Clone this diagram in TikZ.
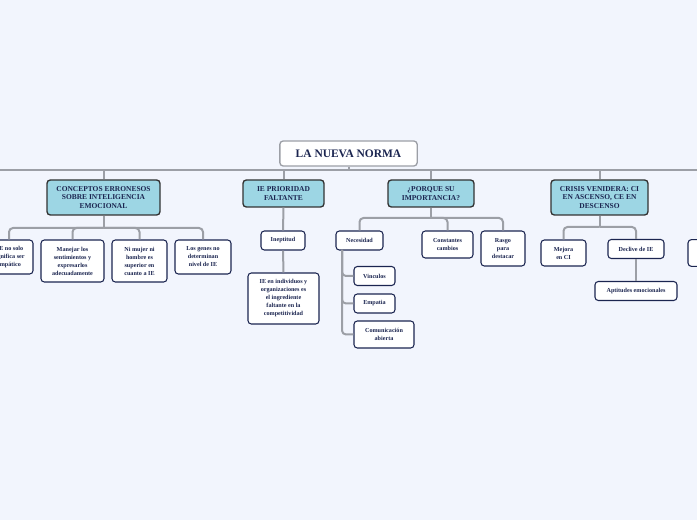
\documentclass[tikz,border=0pt]{standalone}
\usepackage{fontspec}
\setmainfont{Liberation Serif}
\definecolor{bg}{HTML}{F2F5FD}
\definecolor{navy}{HTML}{1B2550}
\definecolor{lblue}{HTML}{9DD6E4}
\definecolor{lgray}{HTML}{9C9FA6}
\begin{document}
\begin{tikzpicture}[x=0.75pt,y=-0.75pt,
  box/.style={draw=navy,line width=0.8pt,rounded corners=2.5pt,fill=white,text=navy,font=\fontsize{4.6}{6}\selectfont\bfseries,align=center,inner sep=0pt},
  topbox/.style={box,fill=lblue,draw=black!80,line width=1pt,font=\fontsize{5.6}{6.2}\selectfont\bfseries},
  conn/.style={draw=lgray,line width=1.5pt,rounded corners=3pt}]
\fill[bg] (0,0) rectangle (697,520);
\useasboundingbox (0,0) rectangle (697,520);
% title
\node[box,draw=lgray,line width=1pt,font=\fontsize{8.6}{10}\selectfont\bfseries,minimum width=103pt,minimum height=18.75pt] (T) at (348.5,153.5) {LA NUEVA NORMA};
\coordinate (L0) at (0,170);
\coordinate (L1) at (697,170);
\draw[conn] (L0) -- (L1);
\draw[conn] (T.south) -- (T.south|-L0);
% level 1
\node[topbox,minimum width=84.75pt,minimum height=26.25pt] (A) at (103.5,197.5) {CONCEPTOS ERRONESOS\\SOBRE INTELIGENCIA\\EMOCIONAL};
\node[topbox,minimum width=60.75pt,minimum height=20.25pt] (B) at (283.5,193.5) {IE PRIORIDAD\\FALTANTE};
\node[topbox,minimum width=64.5pt,minimum height=20.25pt] (C) at (431,193.5) {¿PORQUE SU\\IMPORTANCIA?};
\node[topbox,minimum width=72.75pt,minimum height=26.25pt] (D) at (599.5,197.5) {CRISIS VENIDERA: CI\\EN ASCENSO, CE EN\\DESCENSO};
\foreach \n in {A,B,C,D} \draw[conn] (\n.north) -- (\n.north|-L0);
% A children
\coordinate (AB) at (103.5,228);
\node[box,minimum width=36pt,minimum height=25.5pt] (a1) at (9,257) {CE no solo\\significa ser\\empático};
\node[box,minimum width=47.25pt,minimum height=31.5pt] (a2) at (72.5,261) {Manejar los\\sentimientos y\\expresarlos\\adecuadamente};
\node[box,minimum width=41.25pt,minimum height=31.5pt] (a3) at (139.5,261) {Ni mujer ni\\hombre es\\superior en\\cuanto a IE};
\node[box,minimum width=42pt,minimum height=25.5pt] (a4) at (203,257) {Los genes no\\determinan\\nivel de IE};
\draw[conn] (A.south) -- (AB);
\foreach \n in {a1,a2,a3,a4} \draw[conn] (\n.north) |- (AB);
% B children
\node[box,minimum width=33pt,minimum height=14.25pt] (b1) at (283,240.5) {Ineptitud};
\node[box,minimum width=53.25pt,minimum height=38.25pt] (b2) at (283.5,298.5) {IE en individuos y\\organizaciones es\\el ingrediente\\faltante en la\\competitividad};
\draw[conn] (B.south) -- (b1.north);
\draw[conn] (b1.south) -- (b2.north);
% C children
\coordinate (CB) at (431,218);
\node[box,minimum width=35.25pt,minimum height=14.25pt] (c1) at (359.5,240.5) {Necesidad};
\node[box,minimum width=38.25pt,minimum height=20.25pt] (c2) at (447.5,244.5) {Constantes\\cambios};
\node[box,minimum width=33pt,minimum height=26.25pt] (c3) at (503,248.5) {Rasgo\\para\\destacar};
\draw[conn] (C.south) -- (CB);
\foreach \n in {c1,c2,c3} \draw[conn] (\n.north) |- (CB);
\node[box,minimum width=30.75pt,minimum height=14.25pt] (n1) at (374.5,276) {Vinculos};
\node[box,minimum width=30.75pt,minimum height=14.25pt] (n2) at (374.5,303.5) {Empatia};
\node[box,minimum width=45pt,minimum height=20.25pt] (n3) at (384,334.5) {Comunicación\\abierta};
\coordinate (NV) at (342,250);
\foreach \n in {n1,n2,n3} \draw[conn] (NV) |- (\n.west);
% D children
\coordinate (DB) at (599.5,227);
\node[box,minimum width=33.75pt,minimum height=19.5pt] (d1) at (563.5,253) {Mejora\\en CI};
\node[box,minimum width=42pt,minimum height=14.25pt] (d2) at (636,249) {Declive de IE};
\node[box,minimum width=61.5pt,minimum height=14.25pt] (d3) at (636,291) {Aptitudes emocionales};
\draw[conn] (D.south) -- (DB);
\foreach \n in {d1,d2} \draw[conn] (\n.north) |- (DB);
\draw[conn] (d2.south) -- (d3.north);
% partial box at right edge
\node[box,minimum width=30pt,minimum height=20pt] (e1) at (708,253) {};
\end{tikzpicture}
\end{document}
